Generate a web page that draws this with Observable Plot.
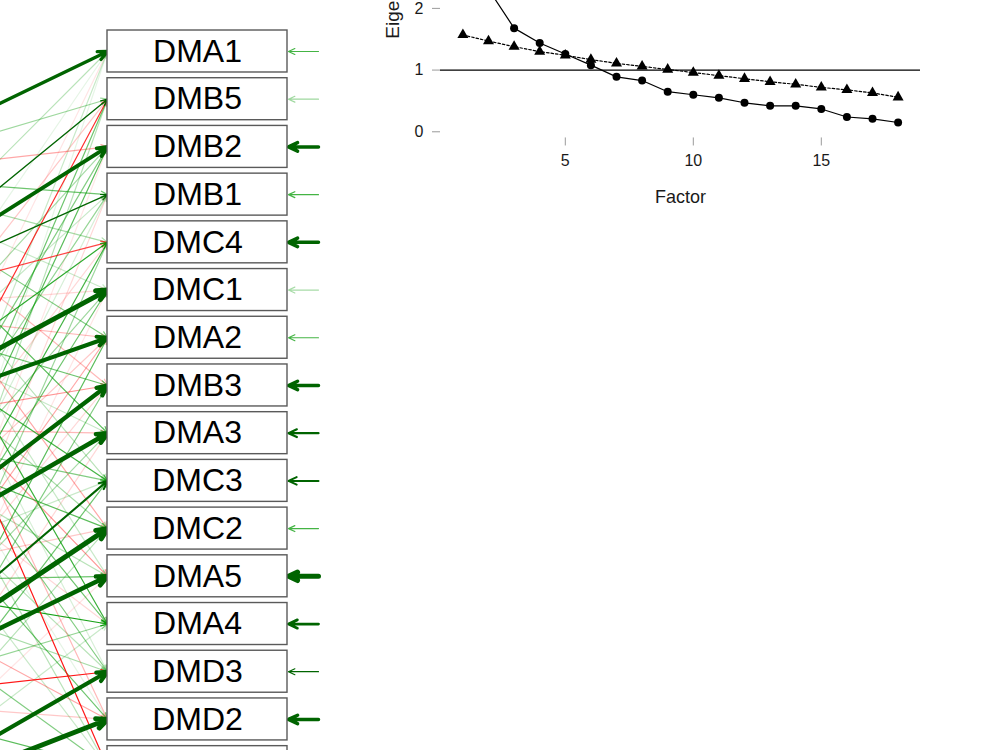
<!DOCTYPE html>
<html>
<head>
<meta charset="utf-8">
<script src="https://cdn.jsdelivr.net/npm/d3@7"></script>
<script src="https://cdn.jsdelivr.net/npm/@observablehq/plot@0.6"></script>
<style>
  html, body { margin: 0; padding: 0; background: #fff; }
  #stage { position: relative; width: 1000px; height: 750px; overflow: hidden; background: #fff;
           font-family: "Liberation Sans", Arial, sans-serif; }
  #stage svg { overflow: hidden; }
  #path { position: absolute; left: 0; top: 0; }
  #scree { position: absolute; left: 340px; }
</style>
</head>
<body>
<div id="stage"><div id="path"></div><div id="scree"></div></div>
<script>
// ---- Path diagram: observed indicators, in display order ----
const items = ["DMA1", "DMB5", "DMB2", "DMB1", "DMC4", "DMC1", "DMA2", "DMB3",
               "DMA3", "DMC3", "DMC2", "DMA5", "DMA4", "DMD3", "DMD2", "DMD1"];

// Latent factors (drawn to the left of the indicators) and their row positions
const factors = ["F1", "F2", "F3", "F4", "F5", "F6"];
const factorRows = [2.6, 5.4, 7.9, 11.1, 13.6, 16.1];

// Factor loadings, one row per indicator, one column per factor
const loadings = [
  [ 0.62,  0.12,  0.05, -0.06,  0.10,  0.03],
  [ 0.15,  0.35, -0.10, -0.26,  0.20,  0.12],
  [-0.14,  0.70,  0.14,  0.18,  0.22, -0.05],
  [ 0.20,  0.33,  0.10,  0.16,  0.08, -0.08],
  [ 0.14, -0.24,  0.26, -0.08,  0.24,  0.15],
  [ 0.10, -0.08,  0.85,  0.15,  0.20, -0.06],
  [ 0.18, -0.12,  0.72, -0.10, -0.14,  0.22],
  [-0.12,  0.20, -0.16,  0.75, -0.08,  0.18],
  [ 0.22,  0.10, -0.12,  0.80,  0.14, -0.08],
  [ 0.12,  0.24,  0.18,  0.10,  0.45,  0.20],
  [-0.14,  0.14,  0.22, -0.10,  0.85,  0.12],
  [ 0.10, -0.16,  0.12,  0.20,  0.80, -0.06],
  [ 0.25,  0.20, -0.08,  0.28,  0.16,  0.10],
  [ 0.08,  0.18,  0.12,  0.14, -0.28,  0.75],
  [-0.12,  0.06,  0.20, -0.14, -0.10,  0.85],
  [-0.28,  0.12,  0.10,  0.18,  0.22,  0.60]
];

// Residual variances of the indicators
const residuals = [0.24, 0.15, 0.65, 0.24, 0.65, 0.14, 0.24, 0.65,
                   0.47, 0.44, 0.24, 0.86, 0.55, 0.33, 0.65, 0.50];

// ---- Scree plot with parallel analysis ----
const screeFactor    = [1, 2, 3, 4, 5, 6, 7, 8, 9, 10, 11, 12, 13, 14, 15, 16, 17, 18];
const actualEigen    = [4.44, 2.31, 1.68, 1.44, 1.26, 1.08, 0.89, 0.83, 0.65, 0.60,
                        0.55, 0.47, 0.42, 0.42, 0.37, 0.24, 0.21, 0.15];
const simulatedEigen = [1.57, 1.47, 1.38, 1.30, 1.24, 1.17, 1.11, 1.06, 1.01, 0.96,
                        0.91, 0.86, 0.81, 0.77, 0.72, 0.68, 0.63, 0.56];
const eigenTicks  = [0, 1, 2];
const factorTicks = [5, 10, 15];

const FONT = "Liberation Sans, Arial, sans-serif";

// Edge appearance: weak edges are thin and faded, strong edges are wide and dark
const CUT = 0.3, MAXV = 1.0, ESIZE = 6;
function edgeStyle(v) {
  const a = Math.abs(v);
  if (a < CUT) return {w: 1.2, op: Math.max(0.1, Math.pow(a / CUT, 1.4)), color: v > 0 ? "#009900" : "#ff0000"};
  return {w: 1 + (a - CUT) / (MAXV - CUT) * (ESIZE - 1), op: 1, color: v > 0 ? "#006400" : "#ee0000"};
}

// Layout of the diagram (pixels horizontally, indicator rows vertically)
const ROW_PX = 47.71, FIRST_ROW_PX = 51;
const FACTOR_X = -150, BOX_LEFT = 107, BOX_RIGHT = 287, RESID_START = 318;

const loadingEdges = [];
items.forEach((item, i) => factors.forEach((f, j) => {
  loadingEdges.push({item, row: i, factor: f, frow: factorRows[j], value: loadings[i][j]});
}));
loadingEdges.sort((a, b) => Math.abs(a.value) - Math.abs(b.value));

const residualEdges = items.map((item, i) => ({item, row: i, value: residuals[i]}));

function arrowFor(e, x1, y1, x2, y2) {
  const s = edgeStyle(e.value);
  const wing = s.w > 1.5 ? 7 + s.w : 7;
  return Plot.arrow([e], {
    x1, y1, x2, y2,
    stroke: s.color, strokeOpacity: s.op, strokeWidth: s.w,
    headLength: wing * 1.5 / s.w, headAngle: 50
  });
}

const boxes = items.map((d, i) => ({item: d, row: i}));

const diagram = Plot.plot({
  width: 340, height: 750, margin: 0,
  x: {domain: [0, 340], range: [0, 340], axis: null},
  y: {domain: [-FIRST_ROW_PX / ROW_PX, (750 - FIRST_ROW_PX) / ROW_PX], range: [0, 750], axis: null},
  style: {background: "white", fontFamily: FONT},
  marks: [
    ...loadingEdges.map(e => arrowFor(e, FACTOR_X, "frow", BOX_LEFT, "row")),
    ...residualEdges.map(e => arrowFor(e, RESID_START, "row", BOX_RIGHT + 1, "row")),
    Plot.rect(boxes, {
      x1: BOX_LEFT, x2: BOX_RIGHT,
      y1: d => d.row - 0.44, y2: d => d.row + 0.44,
      fill: "white", stroke: "#5a5a5a", strokeWidth: 1.4
    }),
    Plot.text(boxes, {
      x: (BOX_LEFT + BOX_RIGHT) / 2, y: "row", text: "item",
      fontSize: 32, fill: "black", fontFamily: FONT
    })
  ]
});
document.getElementById("path").appendChild(diagram);

// Scree plot geometry: eigenvalue 0 sits at page y 131, one unit spans 61.7 px
const Y_DOMAIN = [-0.1, 4.64], UNIT_PX = 61.7, ZERO_PX = 131;
const S_TOP = 10, S_BOTTOM = 80;
const frameH = (Y_DOMAIN[1] - Y_DOMAIN[0]) * UNIT_PX;
const screeTop = ZERO_PX - Y_DOMAIN[1] * UNIT_PX - S_TOP;

const actual = screeFactor.map((f, i) => ({factor: f, eigen: actualEigen[i]}));
const simulated = screeFactor.map((f, i) => ({factor: f, eigen: simulatedEigen[i]}));

const scree = Plot.plot({
  width: 600, height: S_TOP + frameH + S_BOTTOM,
  marginLeft: 100, marginRight: 20, marginTop: S_TOP, marginBottom: S_BOTTOM,
  style: {background: "transparent", fontFamily: FONT, fontSize: "16px", color: "#1a1a1a"},
  x: {domain: [0.125, 18.875]},
  y: {domain: Y_DOMAIN},
  marks: [
    Plot.axisX({ticks: factorTicks, tickSize: 8, tickPadding: 9, label: null,
                stroke: "#9a9a9a", fill: "#1a1a1a", fontSize: 16}),
    Plot.axisY({ticks: eigenTicks, tickFormat: "d", tickSize: 8, tickPadding: 9, label: null,
                stroke: "#9a9a9a", fill: "#1a1a1a", fontSize: 16}),
    Plot.axisY({ticks: [], label: "Eigenvalue", labelAnchor: "center", labelArrow: "none",
                labelOffset: 55, fill: "#1a1a1a", fontSize: 19}),
    Plot.ruleY([1], {stroke: "black", strokeWidth: 1.3}),
    Plot.line(simulated, {x: "factor", y: "eigen", stroke: "black", strokeWidth: 1.2, strokeDasharray: "2.5,2"}),
    Plot.dot(simulated, {x: "factor", y: "eigen", symbol: "triangle", r: 4.1, fill: "black", stroke: null}),
    Plot.line(actual, {x: "factor", y: "eigen", stroke: "black", strokeWidth: 1.2}),
    Plot.dot(actual, {x: "factor", y: "eigen", r: 4, fill: "black", stroke: null}),
    Plot.text(["Factor"], {frameAnchor: "bottom", dy: 65, fontSize: 18, fill: "#1a1a1a"})
  ]
});
const screeBox = document.getElementById("scree");
screeBox.style.top = screeTop + "px";
screeBox.appendChild(scree);
</script>
</body>
</html>
